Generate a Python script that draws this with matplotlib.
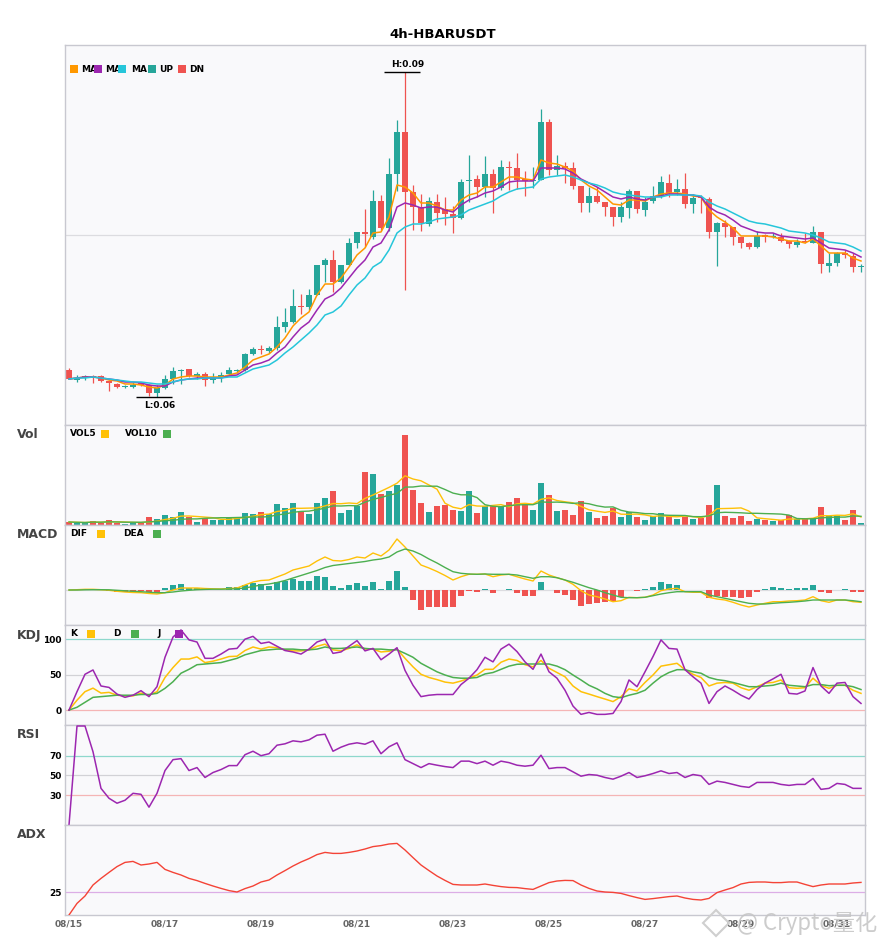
import numpy as np
import matplotlib
matplotlib.use("Agg")
import matplotlib.pyplot as plt
from matplotlib.patches import Rectangle
from matplotlib.lines import Line2D

plt.rcParams['font.family'] = ['DejaVu Sans', 'Noto Sans CJK SC']

title = '4h-HBARUSDT'
dates = ['08/15', '08/17', '08/19', '08/21', '08/23', '08/25', '08/27', '08/29', '08/31']
date_pos = [0, 12, 24, 36, 48, 60, 72, 84, 96]

# prices in units of 1e-4 USDT, one 4h candle per entry
opens = [627, 617, 620, 621, 621, 616, 613, 610, 610, 614,
         612, 604, 609, 618, 626, 628, 621, 623, 617, 619,
         623, 626, 627, 643, 648, 646, 649, 670, 675, 691,
         690, 702, 732, 737, 715, 732, 754, 765, 760, 796,
         769, 823, 865, 805, 790, 773, 795, 788, 783, 779,
         816, 818, 810, 823, 809, 830, 829, 818, 816, 817,
         875, 827, 831, 829, 811, 794, 801, 795, 790, 780,
         789, 806, 787, 796, 801, 814, 805, 808, 793, 800,
         798, 765, 774, 770, 760, 754, 750, 762, 760, 760,
         756, 752, 756, 754, 765, 731, 734, 744, 741, 730]
highs = [629, 622, 622, 622, 622, 617, 614, 612, 615, 615,
         613, 612, 622, 630, 628, 628, 625, 625, 624, 625,
         630, 628, 644, 650, 652, 651, 681, 689, 708, 703,
         708, 732, 739, 747, 732, 759, 765, 788, 807, 802,
         839, 877, 925, 812, 803, 800, 803, 800, 791, 818,
         842, 822, 841, 828, 837, 836, 844, 826, 830, 888,
         878, 842, 835, 835, 811, 810, 810, 795, 790, 795,
         808, 806, 800, 811, 821, 823, 818, 824, 803, 802,
         800, 775, 777, 770, 760, 755, 766, 763, 764, 764,
         757, 758, 764, 771, 765, 744, 745, 747, 744, 733]
lows = [618, 615, 617, 614, 615, 606, 609, 609, 609, 611,
        601, 600, 608, 613, 613, 620, 618, 611, 614, 615,
        622, 624, 626, 642, 643, 644, 647, 665, 674, 683,
        687, 702, 715, 705, 714, 731, 749, 750, 758, 766,
        766, 806, 707, 767, 766, 771, 775, 772, 764, 778,
        795, 800, 800, 784, 807, 807, 808, 801, 809, 817,
        822, 822, 814, 808, 785, 785, 794, 781, 771, 775,
        779, 784, 781, 794, 799, 800, 802, 789, 784, 784,
        759, 731, 760, 752, 749, 748, 749, 755, 759, 755,
        749, 750, 754, 754, 724, 725, 731, 739, 725, 725]
closes = [618, 619, 621, 620, 616, 614, 610, 611, 612, 612,
          604, 609, 618, 626, 627, 621, 623, 617, 620, 622,
          627, 627, 643, 648, 647, 649, 670, 675, 691, 690,
          702, 732, 737, 715, 732, 754, 765, 763, 796, 769,
          823, 865, 805, 790, 774, 796, 784, 783, 779, 815,
          817, 810, 823, 809, 830, 829, 817, 816, 817, 875,
          827, 831, 829, 811, 794, 801, 795, 790, 780, 790,
          806, 788, 795, 801, 815, 804, 808, 793, 799, 799,
          765, 774, 770, 760, 754, 750, 761, 760, 761, 756,
          753, 755, 755, 765, 733, 734, 744, 742, 730, 731]

ma5 = [618, 619, 620, 620, 619, 617, 616, 613, 613, 612,
       610, 609, 612, 618, 620, 621, 621, 620, 620, 620,
       622, 624, 630, 637, 640, 643, 650, 659, 671, 679,
       685, 702, 713, 713, 719, 730, 742, 749, 764, 765,
       780, 812, 810, 804, 794, 794, 791, 787, 787, 797,
       802, 804, 810, 810, 815, 820, 820, 818, 817, 837,
       834, 833, 830, 826, 817, 811, 807, 800, 793, 792,
       797, 797, 796, 800, 803, 804, 804, 803, 801, 800,
       787, 780, 775, 769, 761, 761, 761, 761, 760, 758,
       756, 756, 754, 758, 751, 744, 744, 744, 739, 736]
ma10 = [618, 619, 620, 620, 619, 618, 617, 615, 615, 614,
        612, 611, 611, 615, 617, 618, 619, 619, 619, 619,
        621, 622, 627, 632, 634, 637, 644, 650, 660, 669,
        675, 687, 698, 702, 709, 719, 729, 737, 750, 754,
        767, 790, 794, 792, 789, 790, 790, 787, 785, 792,
        797, 800, 804, 806, 810, 815, 816, 816, 816, 829,
        829, 829, 828, 824, 818, 814, 810, 805, 800, 798,
        800, 798, 797, 800, 801, 803, 803, 802, 802, 800,
        790, 785, 782, 777, 771, 768, 765, 764, 764, 761,
        760, 759, 758, 759, 754, 749, 748, 747, 744, 740]
ma20 = [618, 619, 619, 620, 619, 618, 617, 616, 615, 615,
        614, 613, 613, 615, 617, 618, 618, 619, 619, 619,
        620, 620, 624, 628, 630, 632, 637, 644, 650, 657,
        664, 672, 682, 685, 691, 702, 712, 719, 730, 735,
        747, 764, 770, 773, 773, 775, 778, 779, 780, 782,
        787, 790, 793, 796, 801, 805, 808, 809, 810, 818,
        820, 821, 822, 820, 817, 814, 812, 809, 805, 803,
        802, 801, 800, 800, 800, 802, 802, 802, 802, 801,
        795, 791, 788, 784, 780, 776, 774, 773, 771, 769,
        766, 765, 764, 762, 759, 755, 754, 753, 750, 746]

volume = [3, 2.3, 2.3, 4, 2.3, 5, 2.3, 1.3, 2.3, 1.7,
          8, 5.7, 10, 8, 13, 8.3, 3, 7.3, 5, 4.7,
          8, 8, 12, 11, 13, 10.7, 21, 17, 22, 13,
          11.3, 22, 27, 34, 12, 15, 19, 53, 51, 31,
          34, 40, 90, 35, 22, 13, 19, 20, 15, 14,
          34, 12, 19, 19, 18, 23, 27, 21.7, 15, 42,
          30, 14, 15, 10, 24, 13, 7, 9, 17, 8,
          12.7, 8, 5, 9, 12, 9, 6, 8.3, 6, 7.3,
          20, 40, 9, 7.3, 9, 4, 6, 5, 4, 5,
          10, 6, 6, 7, 18, 9, 9, 5, 15, 2]
vol5 = [3, 2.7, 2.5, 2.9, 2.8, 3.2, 3.2, 3.0, 2.6, 2.5,
        3.1, 3.8, 5.5, 6.7, 8.9, 9, 8.5, 7.9, 7.3, 5.7,
        5.6, 6.6, 7.5, 8.7, 10.4, 10.9, 13.5, 14.5, 16.7, 16.7,
        16.9, 17.1, 19.1, 21.5, 21.3, 22, 21.4, 26.6, 30, 33.8,
        37.6, 41.8, 49.2, 46, 44.2, 40, 35.8, 21.8, 17.8, 16.2,
        20.4, 19, 18.8, 19.6, 20.4, 18.2, 21.2, 21.7, 20.9, 25.7,
        27.1, 24.5, 23.2, 22.2, 18.6, 15.2, 13.8, 12.6, 14, 10.8,
        10.7, 10.9, 10.1, 8.5, 9.3, 8.6, 8.2, 8.9, 8.3, 7.3,
        9.5, 16.3, 16.5, 16.7, 17.1, 13.9, 7.1, 6.3, 5.6, 4.8,
        6, 6, 6.2, 6.8, 9.4, 9.2, 9.8, 9.6, 11.2, 8]
vol10 = [3, 2.7, 2.5, 2.9, 2.8, 3.2, 3.0, 2.8, 2.8, 2.7,
         3.2, 3.5, 4.3, 4.7, 5.7, 6.1, 6.1, 6.7, 7.0, 7.3,
         7.3, 7.5, 7.7, 8.0, 8.0, 8.3, 10.1, 11.0, 12.7, 13.6,
         13.9, 15.3, 16.8, 19.1, 19, 19.4, 19.2, 22.8, 25.7, 27.5,
         29.8, 31.6, 37.9, 38, 39, 38.8, 38.8, 35.5, 31.9, 30.2,
         30.2, 27.4, 20.3, 18.7, 18.3, 19.3, 20.1, 20.3, 20.3, 23.1,
         22.7, 22.9, 22.5, 21.6, 22.2, 21.2, 19.2, 17.9, 18.1, 14.7,
         13, 12.4, 11.4, 11.3, 10.1, 9.7, 9.6, 9.5, 8.4, 8.3,
         9.1, 12.3, 12.7, 12.5, 12.2, 11.7, 11.7, 11.4, 11.2, 10.9,
         9.9, 6.5, 6.2, 6.2, 7.1, 7.6, 7.9, 7.9, 9.0, 8.7]

# MACD in units of 1e-5
dif = [0, 0.3, 0.7, 0.7, 0.3, -0.3, -1.3, -2, -2.5, -2.7,
       -3.5, -4, -2.7, 0, 2, 2, 2, 1.5, 1.2, 1,
       1.5, 2, 5, 8, 9.5, 10, 13, 16, 20, 22,
       24, 29, 33, 29.5, 29, 30.5, 33, 32, 37, 34,
       40, 51, 43, 34, 25, 22, 18.5, 14.5, 10, 13.3,
       15.7, 15.7, 16, 13.3, 15, 15.7, 13.3, 11, 9, 19,
       15, 12.3, 10, 5.7, -0.7, -5, -6.7, -9, -11.7, -10.7,
       -7.3, -7.7, -7.3, -5, -0.7, 1, 1.7, -1.7, -2.3, -2.3,
       -7.3, -9, -10, -12.3, -15, -17, -15, -13.3, -11.7, -11.7,
       -11, -10.7, -10, -6.7, -10.7, -12.3, -10, -10, -11.7, -12.3]
dea = [0, 0, 0.2, 0.3, 0.3, 0.2, -0.3, -0.8, -1.3, -1.7,
       -2.2, -2.7, -2.7, -2, -1, -0.3, 0.3, 0.6, 0.8, 0.8,
       1, 1.2, 2, 3.5, 5, 6, 7.5, 9.5, 12, 14.5,
       17, 19.5, 22.5, 24.5, 25.5, 26.5, 27.5, 28.5, 30, 31,
       33, 38, 41, 39, 35.5, 31, 27, 22.5, 18.3, 16.7,
       16, 15.7, 16, 15.7, 15.7, 15.7, 15, 13.3, 11.7, 13.3,
       13.3, 12.3, 10, 7.7, 5, 2.3, 0, -2.7, -5, -7.3,
       -7.7, -7.7, -7.3, -5.7, -4, -2.7, -1.7, -1.7, -1.7, -1.7,
       -5, -6.7, -8.3, -10, -11.7, -13.3, -14, -14, -13.3, -12.7,
       -12.3, -11.7, -11, -10, -10, -10, -10, -10, -10.7, -11.7]
macd_hist = [0, 0.3, 0.6, 0.5, 0, -0.8, -1.7, -1.7, -1.7, -1,
             -2.3, -1.7, 1.7, 5, 6, 2.3, 1.7, 0.3, 0.5, 0.3,
             2.7, 2.7, 5, 6.7, 5.7, 4, 8.3, 9.3, 11, 9.3,
             9.3, 14, 13.3, 4, 2.3, 5, 7.3, 4, 8.3, 1,
             9.3, 19.3, 3.3, -10, -20, -16.7, -16.7, -16.7, -16.7, -5.7,
             -0.7, -1.7, 1, -2.7, 0.3, 1, -2.7, -5.7, -5.7, 8.3,
             0.3, -2.7, -5, -10, -15.7, -14, -12.7, -11.7, -10.7, -7.3,
             0.3, -1, 1, 2.7, 8.3, 6, 5, 0.3, -0.3, -0.3,
             -7.7, -5.7, -6.7, -7.3, -7.7, -6.7, -1.7, 1, 3.3, 2.3,
             1.3, 2.3, 2.3, 5, -1.7, -3.3, 0.3, 1, -1.7, -1.7]

k_val = [0, 14, 26, 31, 24, 25, 21, 20, 20, 24,
         21, 26, 46, 60, 72, 72, 75, 67, 69, 72,
         75.5, 76, 84, 89, 86, 89, 88, 85, 83.5, 83.5,
         85, 90, 93, 85, 83.5, 87, 92, 86, 86, 82,
         83, 86, 73, 61, 50.5, 46, 43, 39.5, 38, 41,
         45, 49.5, 57.5, 57.5, 67.5, 72, 70, 64, 61, 70,
         59, 53, 47, 34, 26, 22.6, 19, 15.6, 12, 19,
         30, 27, 39, 49.5, 62, 64, 66, 57, 50.5, 46,
         34, 38, 39, 38, 31.6, 28, 33, 38, 39, 42.5,
         31.6, 30.7, 31.6, 45, 35, 30.7, 35, 35, 28, 23.6]
d_val = [0, 4, 11, 18, 19, 20, 21, 21, 21, 22,
         22, 23.6, 30.7, 40, 52, 57.5, 64, 65, 66, 67,
         70, 73, 78, 81, 84, 85, 86, 86, 86, 85,
         85, 86, 89, 87, 87, 88, 89, 87, 86, 86,
         85, 85, 80, 74.5, 66, 60, 54, 49.5, 46, 45,
         45, 46, 51, 53, 57.5, 62, 64.6, 65, 65, 65,
         65, 62, 57, 49.5, 42.5, 35, 30, 23.6, 19, 17.5,
         21, 23.6, 28, 38, 47, 53, 57, 57, 54, 52,
         46, 43, 41.5, 39, 36, 33, 33, 34, 35, 38,
         35, 34, 33, 36, 36, 34.4, 35, 35, 33, 29]
j_val = [0, 26, 50.5, 56.6, 34, 32, 22.6, 18, 21, 27.4,
         19, 33, 74.5, 103, 113, 99, 96, 73, 73, 79,
         86, 87, 100, 104, 94, 96, 90, 84, 82, 79,
         86, 96, 100, 80, 82, 90, 98, 83.5, 87, 71,
         79, 88, 56, 35, 19, 21, 22, 22, 22, 36,
         45, 57, 74.5, 68, 86, 93, 82.5, 68, 57.5, 79,
         54, 45, 28, 5.7, -6, -3.3, -6, -6, -4.7, 12,
         42.5, 33, 54, 75.5, 99, 87, 86, 57, 47, 38,
         9.4, 26, 34, 28, 21, 15.6, 29, 38, 44, 50.5,
         23.6, 22.6, 27, 60, 34, 23.6, 38, 39, 19, 9.4]

rsi = [0, 100, 100, 74, 37, 27, 22, 25, 32, 31,
       18, 32, 55, 66, 67, 55, 58, 48, 53, 56,
       60, 60, 71, 74.5, 70, 72, 80.6, 82, 85, 84,
       86, 90.7, 91.7, 74.5, 78.6, 81.6, 83, 81.6, 85, 72,
       79, 83, 66, 62, 58, 62, 60.4, 59, 58, 64.5,
       64.5, 62, 64.5, 60.4, 64.5, 63, 60.4, 59.4, 60.4, 70.5,
       57, 58, 58, 53.7, 49.3, 51, 50.3, 48, 46.3, 49.3,
       53, 48, 49.7, 52, 54.7, 52, 53, 48, 51, 49.7,
       41, 44.3, 43, 41, 39, 38, 43, 43, 43, 41,
       40, 41, 41, 47, 36, 37, 42, 41, 37, 37]

adx = [13.5, 19.3, 23, 28.5, 31.8, 34.8, 37.7, 39.8, 40.3, 38.5,
       39, 39.8, 36.3, 34.8, 33.5, 31.8, 30.7, 29.3, 28, 26.8,
       25.7, 25, 26.7, 28, 30, 31, 33.5, 35.7, 38, 40,
       41.7, 43.7, 44.8, 44.3, 44.3, 44.8, 45.5, 46.5, 47.7, 48.2,
       49, 49.3, 46, 42.2, 38.5, 35.7, 33, 30.8, 28.8, 28.5,
       28.5, 28.5, 29, 28.3, 27.7, 27.3, 27.2, 26.7, 26.3, 28,
       29.7, 30.5, 30.8, 30.7, 28.5, 26.8, 25.5, 25, 24.8, 24.3,
       23.2, 22.2, 21.3, 21.7, 22.2, 22.7, 23, 22, 21.3, 21,
       21.8, 24.7, 26, 27.2, 29, 29.8, 30, 30, 29.7, 29.7,
       30, 30, 28.8, 27.7, 28.5, 29, 29, 29, 29.5, 29.8]

UP_C = '#26a69a'
DN_C = '#ef5350'
ORANGE = '#ff9800'
PURPLE = '#9c27b0'
CYAN = '#26c6da'
YELLOW = '#ffc107'
GREEN = '#4caf50'
ADX_C = '#f44336'
BG = '#f9f9fb'
SPINE = '#c8c8d0'

W, H = 885, 950
P = 1e-4
o = np.array(opens) * P
h = np.array(highs) * P
l = np.array(lows) * P
c = np.array(closes) * P
x = np.arange(len(o))
up = c >= o
col = np.where(up, UP_C, DN_C)

fig = plt.figure(figsize=(W / 100, H / 100), dpi=100)


def panel(top, bottom):
    ax = fig.add_axes([65 / W, 1 - bottom / H, 800 / W, (bottom - top) / H])
    ax.set_facecolor(BG)
    for s in ax.spines.values():
        s.set_color(SPINE)
        s.set_linewidth(1)
    ax.set_xlim(-0.5, len(o) - 0.5)
    ax.set_xticks([])
    ax.set_yticks([])
    ax.tick_params(length=0, labelsize=6.5, pad=2.5)
    return ax


def yticks(ax, vals):
    ax.set_yticks(vals)
    ax.set_yticklabels([str(v) for v in vals], fontweight='bold')


def box(px, py, color):
    fig.add_artist(Rectangle((px / W, 1 - (py + 4) / H), 8 / W, 8 / H,
                             transform=fig.transFigure, facecolor=color,
                             edgecolor='none', zorder=5))


def label(px, py, s):
    fig.text(px / W, 1 - py / H, s, ha='left', va='center', fontsize=6.5,
             fontweight='bold', zorder=3)


def hline(ax, y, color):
    ax.axhline(y, color=color, lw=0.9, zorder=0.5)


# ---- price
ax_p = panel(45, 425)
ax_p.set_ylim(0.0572, 0.0952)
hline(ax_p, sum(ax_p.get_ylim()) / 2, '#dcdce0')
ax_p.vlines(x, l, h, color=col, lw=0.9, zorder=2)
body = np.maximum(np.abs(c - o), 0.6 * P)
ax_p.bar(x, body, bottom=np.minimum(o, c), width=0.75, color=col, lw=0, zorder=2)
ax_p.plot(x, np.array(ma5) * P, color=ORANGE, lw=1.1, zorder=3)
ax_p.plot(x, np.array(ma10) * P, color=PURPLE, lw=1.1, zorder=3)
ax_p.plot(x, np.array(ma20) * P, color=CYAN, lw=1.1, zorder=3)

ih, il = int(np.argmax(h)), int(np.argmin(l))
ax_p.hlines(h[ih], ih - 2.6, ih + 1.9, color='black', lw=1, zorder=4)
ax_p.annotate(f'H:{h[ih]:.2f}', xy=(ih + 0.4, h[ih]), xytext=(0, 2),
              textcoords='offset points', ha='center', va='bottom',
              fontsize=6.5, fontweight='bold')
ax_p.hlines(l[il], il - 2.6, il + 1.9, color='black', lw=1, zorder=4)
ax_p.annotate(f'L:{l[il]:.2f}', xy=(il + 0.4, l[il]), xytext=(0, -3),
              textcoords='offset points', ha='center', va='top',
              fontsize=6.5, fontweight='bold')

for px, s in [(81, 'MA'), (105, 'MA'), (131, 'MA'), (159, 'UP'), (189, 'DN')]:
    label(px, 69, s)
for px, cc in [(70, ORANGE), (94, PURPLE), (118, CYAN), (148, UP_C), (178, DN_C)]:
    box(px, 69, cc)

# ---- volume
ax_v = panel(425, 525)
ax_v.set_ylim(0, 100)
ax_v.bar(x, volume, width=0.75, color=col, lw=0, zorder=2)
ax_v.plot(x, vol5, color=YELLOW, lw=1, zorder=3)
ax_v.plot(x, vol10, color=GREEN, lw=1, zorder=3)
label(70, 434, 'VOL5')
box(101, 434, YELLOW)
label(125, 434, 'VOL10')
box(163, 434, GREEN)

# ---- MACD
ax_m = panel(525, 625)
ax_m.set_ylim(-35, 65)
hline(ax_m, 0, '#dcdce0')
hist = np.array(macd_hist)
ax_m.bar(x, hist, width=0.75, color=np.where(hist >= 0, UP_C, DN_C), lw=0, zorder=2)
ax_m.plot(x, dif, color=YELLOW, lw=1, zorder=3)
ax_m.plot(x, dea, color=GREEN, lw=1, zorder=3)
label(70, 534, 'DIF')
box(97, 534, YELLOW)
label(123, 534, 'DEA')
box(153, 534, GREEN)

# ---- KDJ
ax_k = panel(625, 725)
ax_k.set_ylim(-21, 120)
hline(ax_k, 100, '#8ed8cc')
hline(ax_k, 50, '#d2d2d6')
hline(ax_k, 0, '#f5b5b5')
ax_k.plot(x, k_val, color=YELLOW, lw=1.1, zorder=3)
ax_k.plot(x, d_val, color=GREEN, lw=1.1, zorder=3)
ax_k.plot(x, j_val, color=PURPLE, lw=1.1, zorder=3)
yticks(ax_k, [0, 50, 100])
label(70, 634, 'K')
box(87, 634, YELLOW)
label(113, 634, 'D')
box(131, 634, GREEN)
label(157, 634, 'J')
box(175, 634, PURPLE)

# ---- RSI
ax_r = panel(725, 825)
ax_r.set_ylim(0, 101)
hline(ax_r, 70, '#8ed8cc')
hline(ax_r, 50, '#d2d2d6')
hline(ax_r, 30, '#f5b5b5')
ax_r.plot(x, rsi, color=PURPLE, lw=1.1, zorder=3)
yticks(ax_r, [30, 50, 70])

# ---- ADX
ax_a = panel(825, 915)
ax_a.set_ylim(13.5, 58.5)
hline(ax_a, 25, '#dcaee6')
ax_a.plot(x, adx, color=ADX_C, lw=1, zorder=3)
yticks(ax_a, [25])
ax_a.set_xticks(date_pos)
ax_a.set_xticklabels(dates, fontweight='bold', color='#666666')
ax_a.tick_params(axis='x', pad=3)

for name, py in [('Vol', 435), ('MACD', 535), ('KDJ', 635), ('RSI', 735), ('ADX', 835)]:
    fig.text(17 / W, 1 - py / H, name, ha='left', va='center', fontsize=9,
             fontweight='bold', color='#444444')

fig.text(443 / W, 1 - 34 / H, title, ha='center', va='center', fontsize=9.5,
         fontweight='bold')

# watermark
fig.add_artist(Line2D([716 / W], [1 - 923 / H], marker='D', ms=13, mfc='none',
                      mec='#cfcfcf', mew=1.5, transform=fig.transFigure, zorder=10))
fig.text(737 / W, 1 - 923 / H, '@ Crypto量化', ha='left', va='center', fontsize=16,
         color='#c4c4c4', alpha=0.85, family=['Noto Sans CJK SC', 'DejaVu Sans'],
         zorder=10)

fig.savefig('out.png', dpi=100)
